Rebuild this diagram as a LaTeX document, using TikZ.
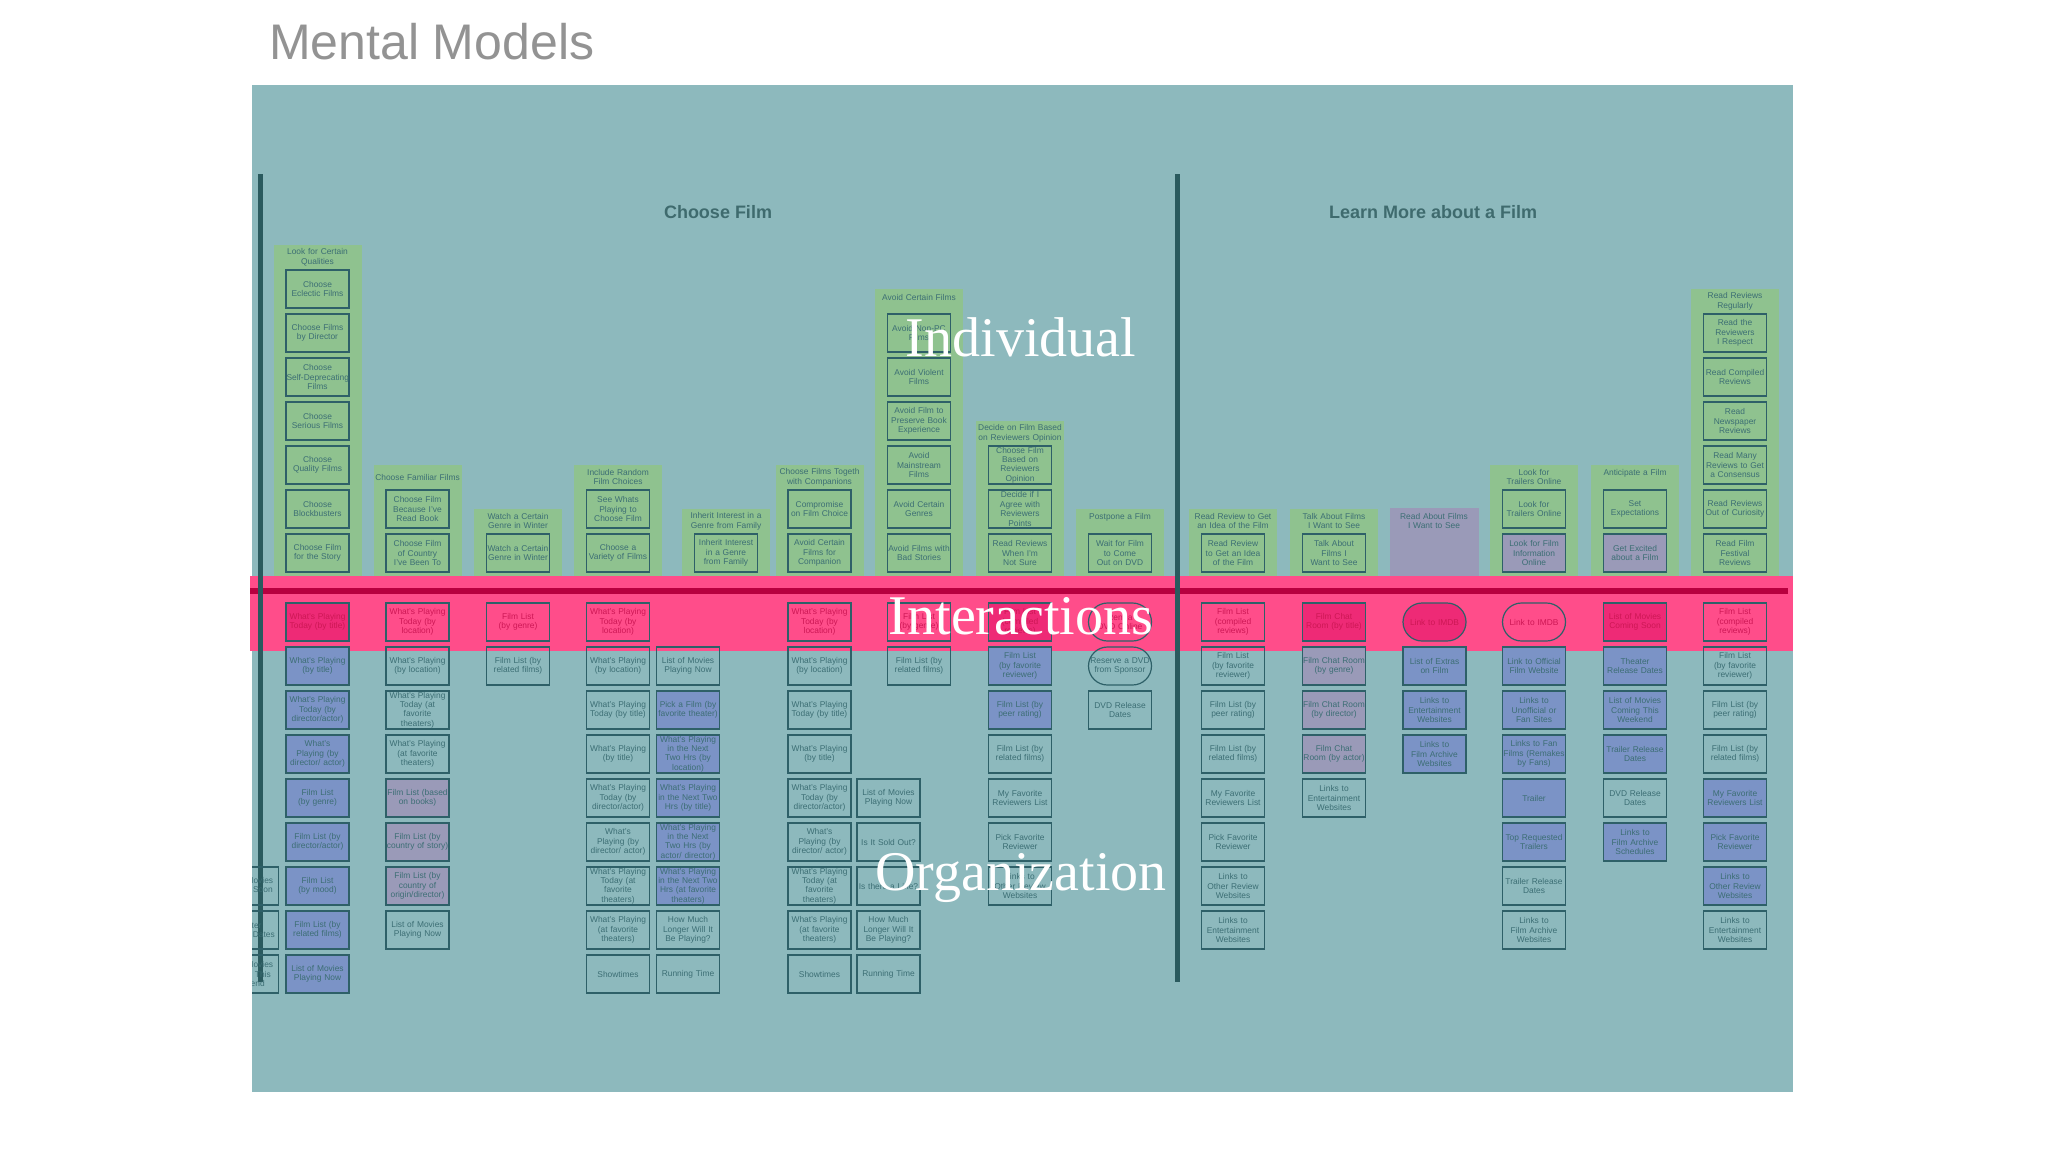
\documentclass[tikz,border=0pt]{standalone}
\usepackage{fontspec}
\setmainfont{Liberation Sans}
\newfontfamily\serifL{Liberation Serif}
\definecolor{teal1}{HTML}{8DB9BD}
\definecolor{grn}{HTML}{8FC28F}
\definecolor{edge}{HTML}{2E6068}
\definecolor{txt}{HTML}{3C6E74}
\definecolor{blu}{HTML}{7B93C6}
\definecolor{pur}{HTML}{9A9AB8}
\definecolor{pnk}{HTML}{FF4D8A}
\definecolor{pnkd}{HTML}{EE2A76}
\definecolor{pnkl}{HTML}{B8003F}
\definecolor{bar}{HTML}{2A5A5E}
\newcommand\nohy{\hyphenpenalty=10000\exhyphenpenalty=10000}
\tikzset{
 bx/.style={draw=edge,line width=0.6pt,minimum width=31.5pt,minimum height=19pt,text width=31pt,align=center,inner sep=0pt,font=\nohy\fontsize{4.2}{4.7}\selectfont,text=txt},
 bxb/.style={bx,fill=blu},
 bxp/.style={bx,fill=pur},
 bxk/.style={bx,fill=pnkd,text=pnkl!70!pnk},
 bxi/.style={bx,text=pnkl!70!pnk},
 stad/.style={bx,rounded corners=9.5pt},
 ghd/.style={text width=43pt,align=center,inner sep=0pt,font=\nohy\fontsize{4.2}{4.9}\selectfont,text=txt},
 big/.style={text=white,font=\serifL\fontsize{28}{30}\selectfont},
 hd/.style={text=bar!90,font=\bfseries\fontsize{9}{10}\selectfont}
}
\begin{document}
\begin{tikzpicture}[x=0.5pt,y=-0.5pt]
\useasboundingbox (0,0) rectangle (2048,1152);
\fill[white] (0,0) rectangle (2048,1152);
\node[anchor=west,text=gray!85,font=\fontsize{25}{27}\selectfont] (title) at (262,42) {Mental Models};
\fill[teal1] (252,85) rectangle (1793,1092);
% green groups
\foreach \x/\t in {317.5/245,417.5/465,518/509,618/465,726/509,819.5/465,919/289,1020/421,1120/509,1233/509,1334/509,1534/465,1635/465,1735/289}
  \fill[grn] (\x-44,\t) rectangle (\x+44,577);
\fill[pur] (1390,508) rectangle (1479,577);
\node[hd] (h1) at (718,212) {Choose Film};
\node[hd] (h2) at (1433,212) {Learn More about a Film};
% group headings
\node[ghd] (g1) at (317.5,257) {Look for Certain Qualities};
\node[ghd] (g2) at (417.5,477) {Choose Familiar Films};
\node[ghd] (g3) at (518,521) {Watch a Certain Genre in Winter};
\node[ghd] (g4) at (618,477) {Include Random Film Choices};
\node[ghd] (g5) at (726,521) {Inherit Interest in a Genre from Family};
\node[ghd] (g6) at (819.5,477) {Choose Films Togeth with Companions};
\node[ghd] (g7) at (919,297) {Avoid Certain Films};
\node[ghd] (g8) at (1020,433) {Decide on Film Based on Reviewers Opinion};
\node[ghd] (g9) at (1120,517) {Postpone a Film};
\node[ghd] (g10) at (1233,521) {Read Review to Get an Idea of the Film};
\node[ghd] (g11) at (1334,521) {Talk About Films I Want to See};
\node[ghd] (g12) at (1434,521) {Read About Films I Want to See};
\node[ghd] (g13) at (1534,477) {Look for Trailers Online};
\node[ghd] (g14) at (1635,473) {Anticipate a Film};
\node[ghd] (g15) at (1735,301) {Read Reviews Regularly};
% upper boxes
\node[bx] (u1a) at (317.5,289) {Choose Eclectic Films};
\node[bx] (u1b) at (317.5,333) {Choose Films by Director};
\node[bx] (u1c) at (317.5,377) {Choose Self-Deprecating Films};
\node[bx] (u1d) at (317.5,421) {Choose Serious Films};
\node[bx] (u1e) at (317.5,465) {Choose Quality Films};
\node[bx] (u1f) at (317.5,509) {Choose Blockbusters};
\node[bx] (u1g) at (317.5,553) {Choose Film for the Story};
\node[bx] (u2a) at (417.5,509) {Choose Film Because I've Read Book};
\node[bx] (u2b) at (417.5,553) {Choose Film of Country I've Been To};
\node[bx] (u3a) at (518,553) {Watch a Certain Genre in Winter};
\node[bx] (u4a) at (618,509) {See Whats Playing to Choose Film};
\node[bx] (u4b) at (618,553) {Choose a Variety of Films};
\node[bx] (u5a) at (726,553) {Inherit Interest in a Genre from Family};
\node[bx] (u6a) at (819.5,509) {Compromise on Film Choice};
\node[bx] (u6b) at (819.5,553) {Avoid Certain Films for Companion};
\node[bx] (u7a) at (919,333) {Avoid Non-PC Films};
\node[bx] (u7b) at (919,377) {Avoid Violent Films};
\node[bx] (u7c) at (919,421) {Avoid Film to Preserve Book Experience};
\node[bx] (u7d) at (919,465) {Avoid Mainstream Films};
\node[bx] (u7e) at (919,509) {Avoid Certain Genres};
\node[bx] (u7f) at (919,553) {Avoid Films with Bad Stories};
\node[bx] (u8a) at (1020,465) {Choose Film Based on Reviewers Opinion};
\node[bx] (u8b) at (1020,509) {Decide if I Agree with Reviewers Points};
\node[bx] (u8c) at (1020,553) {Read Reviews When I'm Not Sure};
\node[bx] (u9a) at (1120,553) {Wait for Film to Come Out on DVD};
\node[bx] (u10a) at (1233,553) {Read Review to Get an Idea of the Film};
\node[bx] (u11a) at (1334,553) {Talk About Films I Want to See};
\node[bx] (u13a) at (1534,509) {Look for Trailers Online};
\node[bxp] (u13b) at (1534,553) {Look for Film Information Online};
\node[bx] (u14a) at (1635,509) {Set Expectations};
\node[bxp] (u14b) at (1635,553) {Get Excited about a Film};
\node[bx] (u15a) at (1735,333) {Read the Reviewers I Respect};
\node[bx] (u15b) at (1735,377) {Read Compiled Reviews};
\node[bx] (u15c) at (1735,421) {Read Newspaper Reviews};
\node[bx] (u15d) at (1735,465) {Read Many Reviews to Get a Consensus};
\node[bx] (u15e) at (1735,509) {Read Reviews Out of Curiosity};
\node[bx] (u15f) at (1735,553) {Read Film Festival Reviews};
% band
\fill[pnk] (250,576) rectangle (1793,651);
\fill[pnkl] (250,588) rectangle (1788,594);
% bars
\fill[bar] (258,174) rectangle (263,982);
\fill[bar] (1175,174) rectangle (1180,982);
% lower boxes
\begin{scope}
\clip (252,0) rectangle (2048,1152);
\node[bx] (p1) at (247,886) {List of Movies Coming Soon};
\node[bx] (p2) at (247,930) {Theater Release Dates};
\node[bx] (p3) at (247,974) {List of Movies Coming This Weekend};
\end{scope}
\node[bxk] (l1a) at (317.5,622) {What's Playing Today (by title)};
\node[bxb] (l1b) at (317.5,666) {What's Playing (by title)};
\node[bxb] (l1c) at (317.5,710) {What's Playing Today (by director/actor)};
\node[bxb] (l1d) at (317.5,754) {What's Playing (by director/ actor)};
\node[bxb] (l1e) at (317.5,798) {Film List (by genre)};
\node[bxb] (l1f) at (317.5,842) {Film List (by director/actor)};
\node[bxb] (l1g) at (317.5,886) {Film List (by mood)};
\node[bxb] (l1h) at (317.5,930) {Film List (by related films)};
\node[bxb] (l1i) at (317.5,974) {List of Movies Playing Now};
\node[bxi] (l2a) at (417.5,622) {What's Playing Today (by location)};
\node[bx] (l2b) at (417.5,666) {What's Playing (by location)};
\node[bx] (l2c) at (417.5,710) {What's Playing Today (at favorite theaters)};
\node[bx] (l2d) at (417.5,754) {What's Playing (at favorite theaters)};
\node[bxp] (l2e) at (417.5,798) {Film List (based on books)};
\node[bxp] (l2f) at (417.5,842) {Film List (by country of story)};
\node[bxp] (l2g) at (417.5,886) {Film List (by country of origin/director)};
\node[bx] (l2h) at (417.5,930) {List of Movies Playing Now};
\node[bxi] (l3a) at (518,622) {Film List (by genre)};
\node[bx] (l3b) at (518,666) {Film List (by related films)};
\foreach \x/\n in {618/l4,819.5/l6}{
\node[bxi] (\n a) at (\x,622) {What's Playing Today (by location)};
\node[bx] (\n b) at (\x,666) {What's Playing (by location)};
\node[bx] (\n c) at (\x,710) {What's Playing Today (by title)};
\node[bx] (\n d) at (\x,754) {What's Playing (by title)};
\node[bx] (\n e) at (\x,798) {What's Playing Today (by director/actor)};
\node[bx] (\n f) at (\x,842) {What's Playing (by director/ actor)};
\node[bx] (\n g) at (\x,886) {What's Playing Today (at favorite theaters)};
\node[bx] (\n h) at (\x,930) {What's Playing (at favorite theaters)};
\node[bx] (\n i) at (\x,974) {Showtimes};
}
\node[bx] (l5b) at (688,666) {List of Movies Playing Now};
\node[bxb] (l5c) at (688,710) {Pick a Film (by favorite theater)};
\node[bxb] (l5d) at (688,754) {What's Playing in the Next Two Hrs (by location)};
\node[bxb] (l5e) at (688,798) {What's Playing in the Next Two Hrs (by title)};
\node[bxb] (l5f) at (688,842) {What's Playing in the Next Two Hrs (by actor/ director)};
\node[bxb] (l5g) at (688,886) {What's Playing in the Next Two Hrs (at favorite theaters)};
\node[bx] (l5h) at (688,930) {How Much Longer Will It Be Playing?};
\node[bx] (l5i) at (688,974) {Running Time};
\node[bx] (m6e) at (888.5,798) {List of Movies Playing Now};
\node[bx] (m6f) at (888.5,842) {Is It Sold Out?};
\node[bx] (m6g) at (888.5,886) {Is there a Line?};
\node[bx] (m6h) at (888.5,930) {How Much Longer Will It Be Playing?};
\node[bx] (m6i) at (888.5,974) {Running Time};
\node[bxi] (l7a) at (919,622) {Film List (by genre)};
\node[bx] (l7b) at (919,666) {Film List (by related films)};
\node[bxk] (l8a) at (1020,622) {Film List (compiled reviews)};
\node[bxb] (l8b) at (1020,666) {Film List (by favorite reviewer)};
\node[bxb] (l8c) at (1020,710) {Film List (by peer rating)};
\node[bx] (l8d) at (1020,754) {Film List (by related films)};
\node[bx] (l8e) at (1020,798) {My Favorite Reviewers List};
\node[bx] (l8f) at (1020,842) {Pick Favorite Reviewer};
\node[bx] (l8g) at (1020,886) {Links to Other Review Websites};
\node[stad,text=pnkl!70!pnk] (l9a) at (1120,622) {Rent a DVD Online};
\node[stad] (l9b) at (1120,666) {Reserve a DVD from Sponsor};
\node[bx] (l9c) at (1120,710) {DVD Release Dates};
\node[bxi] (l10a) at (1233,622) {Film List (compiled reviews)};
\node[bx] (l10b) at (1233,666) {Film List (by favorite reviewer)};
\node[bx] (l10c) at (1233,710) {Film List (by peer rating)};
\node[bx] (l10d) at (1233,754) {Film List (by related films)};
\node[bx] (l10e) at (1233,798) {My Favorite Reviewers List};
\node[bx] (l10f) at (1233,842) {Pick Favorite Reviewer};
\node[bx] (l10g) at (1233,886) {Links to Other Review Websites};
\node[bx] (l10h) at (1233,930) {Links to Entertainment Websites};
\node[bxk] (l11a) at (1334,622) {Film Chat Room (by title)};
\node[bxp] (l11b) at (1334,666) {Film Chat Room (by genre)};
\node[bxp] (l11c) at (1334,710) {Film Chat Room (by director)};
\node[bxp] (l11d) at (1334,754) {Film Chat Room (by actor)};
\node[bx] (l11e) at (1334,798) {Links to Entertainment Websites};
\node[stad,fill=pnkd,text=pnkl!70!pnk] (l12a) at (1434.5,622) {Link to IMDB};
\node[bxb] (l12b) at (1434.5,666) {List of Extras on Film};
\node[bxb] (l12c) at (1434.5,710) {Links to Entertainment Websites};
\node[bxb] (l12d) at (1434.5,754) {Links to Film Archive Websites};
\node[stad,text=pnkl!70!pnk] (l13a) at (1534,622) {Link to IMDB};
\node[bxb] (l13b) at (1534,666) {Link to Official Film Website};
\node[bxb] (l13c) at (1534,710) {Links to Unofficial or Fan Sites};
\node[bxb] (l13d) at (1534,754) {Links to Fan Films (Remakes by Fans)};
\node[bxb] (l13e) at (1534,798) {Trailer};
\node[bxb] (l13f) at (1534,842) {Top Requested Trailers};
\node[bx] (l13g) at (1534,886) {Trailer Release Dates};
\node[bx] (l13h) at (1534,930) {Links to Film Archive Websites};
\node[bxk] (l14a) at (1635,622) {List of Movies Coming Soon};
\node[bxb] (l14b) at (1635,666) {Theater Release Dates};
\node[bxb] (l14c) at (1635,710) {List of Movies Coming This Weekend};
\node[bxb] (l14d) at (1635,754) {Trailer Release Dates};
\node[bx] (l14e) at (1635,798) {DVD Release Dates};
\node[bxb] (l14f) at (1635,842) {Links to Film Archive Schedules};
\node[bxi] (l15a) at (1735,622) {Film List (compiled reviews)};
\node[bx] (l15b) at (1735,666) {Film List (by favorite reviewer)};
\node[bx] (l15c) at (1735,710) {Film List (by peer rating)};
\node[bx] (l15d) at (1735,754) {Film List (by related films)};
\node[bxb] (l15e) at (1735,798) {My Favorite Reviewers List};
\node[bxb] (l15f) at (1735,842) {Pick Favorite Reviewer};
\node[bxb] (l15g) at (1735,886) {Links to Other Review Websites};
\node[bx] (l15h) at (1735,930) {Links to Entertainment Websites};
% big labels
\node[big] (ind) at (1021,337) {Individual};
\node[big] (int) at (1021,616) {Interactions};
\node[big] (org) at (1021,878) {Organization};
\end{tikzpicture}
\end{document}
